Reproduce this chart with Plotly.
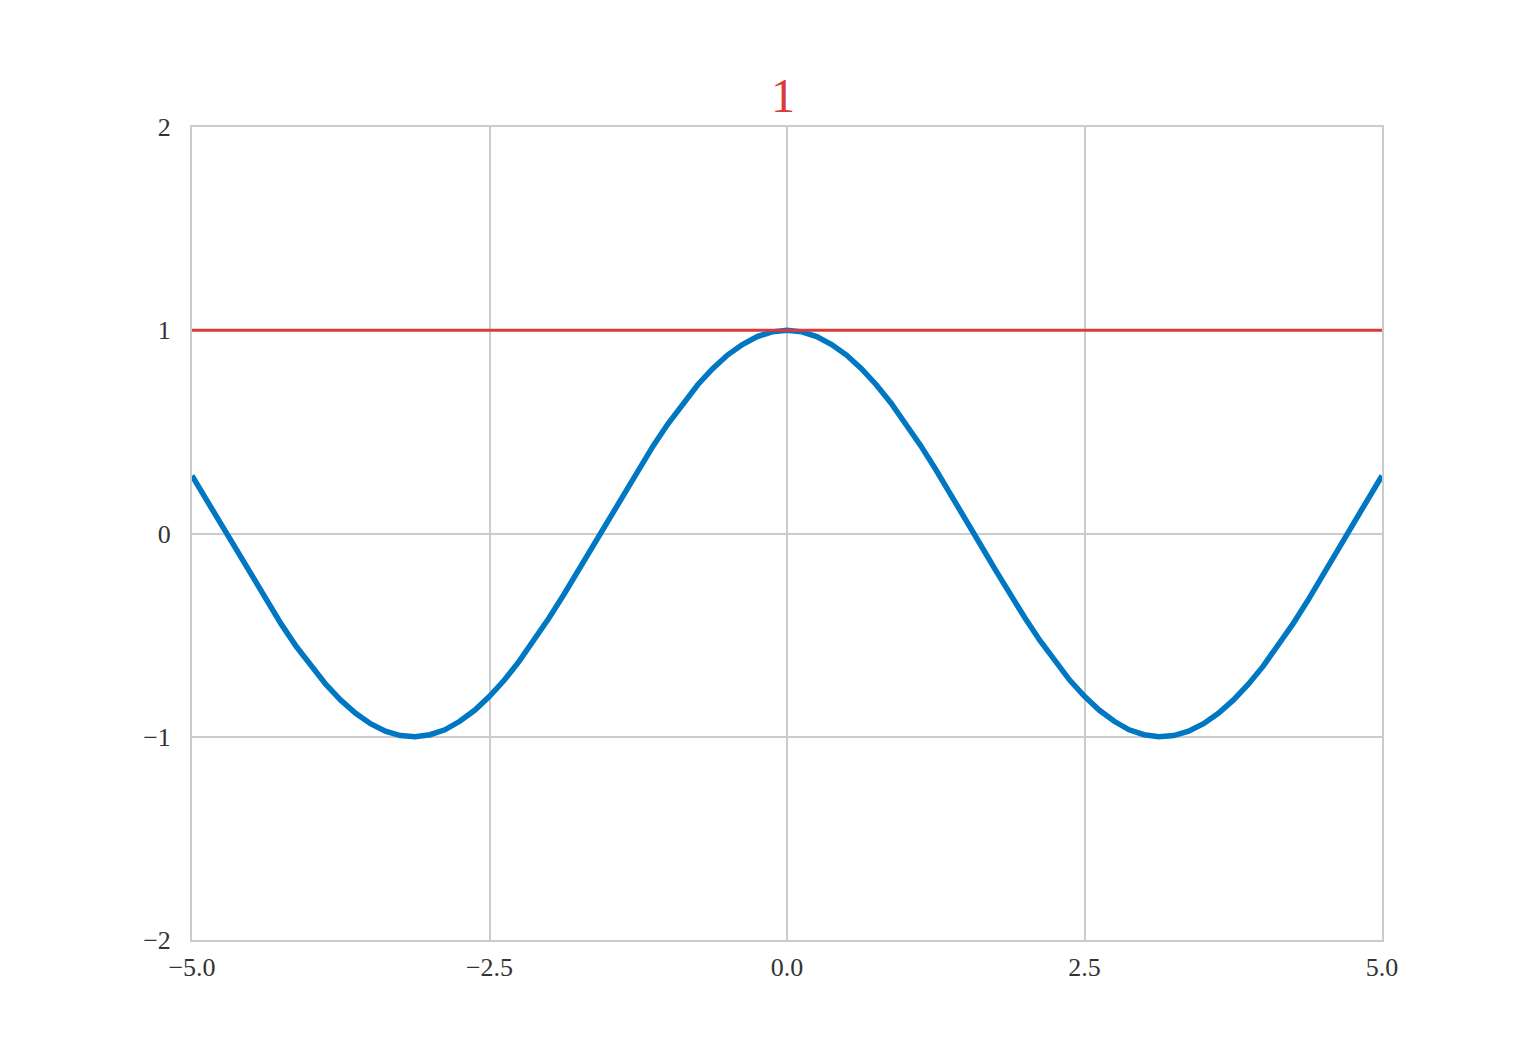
import plotly.graph_objects as go

x_vals = [-5.0, -4.875, -4.75, -4.625, -4.5, -4.375, -4.25, -4.125, -4.0, -3.875,
          -3.75, -3.625, -3.5, -3.375, -3.25, -3.125, -3.0, -2.875, -2.75, -2.625,
          -2.5, -2.375, -2.25, -2.125, -2.0, -1.875, -1.75, -1.625, -1.5, -1.375,
          -1.25, -1.125, -1.0, -0.875, -0.75, -0.625, -0.5, -0.375, -0.25, -0.125,
          0.0,
          0.125, 0.25, 0.375, 0.5, 0.625, 0.75, 0.875, 1.0, 1.125, 1.25,
          1.375, 1.5, 1.625, 1.75, 1.875, 2.0, 2.125, 2.25, 2.375, 2.5,
          2.625, 2.75, 2.875, 3.0, 3.125, 3.25, 3.375, 3.5, 3.625, 3.75,
          3.875, 4.0, 4.125, 4.25, 4.375, 4.5, 4.625, 4.75, 4.875, 5.0]
curve_vals = [0.284, 0.162, 0.037, -0.087, -0.211, -0.331, -0.446, -0.555, -0.654, -0.743,
              -0.820, -0.885, -0.936, -0.973, -0.994, -1.000, -0.990, -0.966, -0.924, -0.870,
              -0.801, -0.721, -0.628, -0.526, -0.416, -0.300, -0.178, -0.054, 0.071, 0.195,
              0.315, 0.431, 0.540, 0.641, 0.732, 0.811, 0.878, 0.930, 0.969, 0.992,
              1.000,
              0.992, 0.969, 0.930, 0.878, 0.811, 0.732, 0.641, 0.540, 0.431, 0.315,
              0.195, 0.071, -0.054, -0.178, -0.300, -0.416, -0.526, -0.628, -0.721, -0.801,
              -0.870, -0.924, -0.966, -0.990, -1.000, -0.994, -0.973, -0.936, -0.885, -0.820,
              -0.743, -0.654, -0.555, -0.446, -0.331, -0.211, -0.087, 0.037, 0.162, 0.284]
level_x = [-5.0, 5.0]
level_y = [1.0, 1.0]
x_ticks = [-5.0, -2.5, 0.0, 2.5, 5.0]
y_ticks = [-2, -1, 0, 1, 2]
title_text = "1"

fig = go.Figure()
fig.add_trace(go.Scatter(x=x_vals, y=curve_vals, mode="lines",
                         line=dict(color="#0077c3", width=5.5),
                         showlegend=False, hoverinfo="skip"))
fig.add_trace(go.Scatter(x=level_x, y=level_y, mode="lines",
                         line=dict(color="#d93a3c", width=3),
                         showlegend=False, hoverinfo="skip"))

font_family = "Liberation Serif, DejaVu Serif, serif"
axis_common = dict(showgrid=True, gridcolor="#cccccc", gridwidth=2,
                   showline=True, linecolor="#cccccc", linewidth=2, mirror=True,
                   zeroline=False, ticks="",
                   tickfont=dict(family=font_family, size=26, color="#333333"))

fig.update_layout(
    width=1536, height=1056,
    margin=dict(l=184, r=162, t=119, b=124),
    paper_bgcolor="white", plot_bgcolor="white",
    title=dict(text=title_text, x=(783 - 8) / 1536, xanchor="center", y=1 - 87 / 1056, yanchor="middle",
               font=dict(family=font_family, size=48, color="#d93a3c")),
    xaxis=dict(range=[-5, 5], tickvals=x_ticks,
               ticktext=[f"{v:.1f}".replace("-", "\u2212") for v in x_ticks],
               ticklabelstandoff=3, **axis_common),
    yaxis=dict(range=[-2, 2], tickvals=y_ticks,
               ticktext=[str(v).replace("-", "\u2212") for v in y_ticks],
               ticklabelstandoff=14, **axis_common),
)

fig.write_html("out.html")
